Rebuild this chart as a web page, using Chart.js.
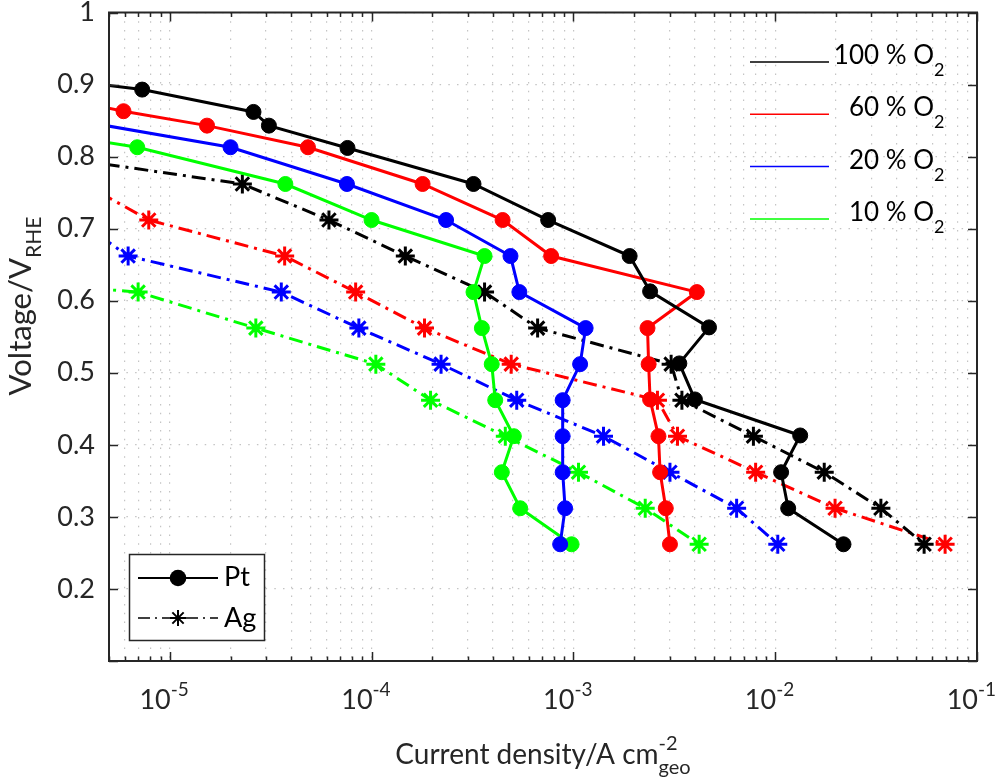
<!DOCTYPE html>
<html>
<head>
<meta charset="utf-8">
<script src="https://cdn.jsdelivr.net/npm/chart.js@4.4.0/dist/chart.umd.min.js"></script>
<style>
  html, body { margin: 0; background: #fff; }
  #wrap { width: 1000px; height: 781px; }
</style>
</head>
<body>
<div id="wrap"><canvas id="polarization-chart"></canvas></div>
<script>
// O2 fractions and metals
const o2Labels = ['100', '60', '20', '10'];
const o2Colors = ['#000000', '#ff0000', '#0000ff', '#00ff00'];
const metalLabels = ['Pt', 'Ag'];

// Pt electrodes: current density (A/cm2) and voltage (V RHE)
const ptJ100 = [3e-6, 7.3e-6, 2.6e-5, 3.1e-5, 7.6e-5, 3.2e-4, 7.5e-4, 1.9e-3, 2.4e-3, 4.7e-3, 3.35e-3, 4.0e-3, 1.33e-2, 1.07e-2, 1.16e-2, 2.18e-2];
const ptV100 = [0.906, 0.893, 0.862, 0.843, 0.812, 0.762, 0.712, 0.662, 0.613, 0.563, 0.513, 0.463, 0.413, 0.362, 0.312, 0.262];
const ptJ60 = [3e-6, 5.9e-6, 1.53e-5, 4.84e-5, 1.79e-4, 4.46e-4, 7.76e-4, 4.09e-3, 2.33e-3, 2.36e-3, 2.4e-3, 2.64e-3, 2.69e-3, 2.87e-3, 3.01e-3];
const ptV60 = [0.88, 0.863, 0.843, 0.813, 0.762, 0.712, 0.662, 0.612, 0.562, 0.512, 0.463, 0.412, 0.362, 0.312, 0.262];
const ptJ20 = [2.5e-6, 2.0e-5, 7.55e-5, 2.34e-4, 4.88e-4, 5.4e-4, 1.15e-3, 1.08e-3, 8.85e-4, 8.85e-4, 8.85e-4, 9.1e-4, 8.6e-4];
const ptV20 = [0.857, 0.813, 0.762, 0.712, 0.662, 0.612, 0.562, 0.512, 0.462, 0.412, 0.362, 0.312, 0.262];
const ptJ10 = [3e-6, 6.9e-6, 3.74e-5, 1.0e-4, 3.63e-4, 3.2e-4, 3.52e-4, 3.94e-4, 4.1e-4, 5.07e-4, 4.42e-4, 5.45e-4, 9.8e-4];
const ptV10 = [0.829, 0.813, 0.762, 0.712, 0.662, 0.612, 0.562, 0.512, 0.462, 0.412, 0.362, 0.312, 0.262];

// Ag electrodes
const agJ100 = [2.5e-6, 2.29e-5, 6.15e-5, 1.47e-4, 3.63e-4, 6.65e-4, 3.05e-3, 3.45e-3, 7.8e-3, 1.75e-2, 3.34e-2, 5.47e-2];
const agV100 = [0.801, 0.762, 0.712, 0.662, 0.612, 0.562, 0.512, 0.462, 0.412, 0.362, 0.312, 0.262];
const agJ60 = [4.5e-6, 7.87e-6, 3.71e-5, 8.34e-5, 1.83e-4, 4.92e-4, 2.61e-3, 3.28e-3, 8.0e-3, 1.98e-2, 6.95e-2];
const agV60 = [0.75, 0.712, 0.662, 0.612, 0.562, 0.512, 0.462, 0.412, 0.362, 0.312, 0.262];
const agJ20 = [4.5e-6, 6.22e-6, 3.57e-5, 8.65e-5, 2.21e-4, 5.24e-4, 1.41e-3, 3.01e-3, 6.44e-3, 1.03e-2];
const agV20 = [0.69, 0.662, 0.612, 0.562, 0.512, 0.462, 0.412, 0.362, 0.312, 0.262];
const agJ10 = [3e-6, 6.97e-6, 2.67e-5, 1.05e-4, 1.96e-4, 4.6e-4, 1.06e-3, 2.27e-3, 4.2e-3];
const agV10 = [0.62, 0.612, 0.562, 0.512, 0.462, 0.412, 0.362, 0.312, 0.262];

// axes
const xMin = 5e-6, xMax = 0.1;
const xDecades = [-5, -4, -3, -2, -1];
const yMin = 0.1, yMax = 1;
const yTickLabels = ['0.2', '0.3', '0.4', '0.5', '0.6', '0.7', '0.8', '0.9', '1'];

const FONT = 'Lato, "Open Sans", sans-serif';
const DASHDOT = [14, 6, 3, 6];

// every k*10^n inside the x range, for minor ticks and dotted grid
const xTickValues = [];
for (let e = -6; e <= -1; e++) {
  for (let k = 1; k <= 9; k++) {
    const v = k * Math.pow(10, e);
    if (v >= xMin * 0.999 && v <= xMax * 1.001) xTickValues.push(v);
  }
}

function pts(J, V) {
  return J.map((j, i) => ({x: j, y: V[i]}));
}

function ptSet(J, V, color, name) {
  return {
    label: name, data: pts(J, V),
    borderColor: color, backgroundColor: color,
    borderWidth: 3, tension: 0,
    pointStyle: 'circle', pointRadius: 7.5,
    pointBackgroundColor: color, pointBorderColor: color, pointBorderWidth: 1,
    clip: 0
  };
}

function agSet(J, V, color, name) {
  return {
    label: name, data: pts(J, V),
    borderColor: color, backgroundColor: color,
    borderWidth: 3, borderDash: DASHDOT, tension: 0,
    pointStyle: 'star', pointRadius: 9.5,
    pointBorderColor: color, pointBorderWidth: 3,
    clip: 0
  };
}

const ptJ = [ptJ100, ptJ60, ptJ20, ptJ10];
const ptV = [ptV100, ptV60, ptV20, ptV10];
const agJ = [agJ100, agJ60, agJ20, agJ10];
const agV = [agV100, agV60, agV20, agV10];

const datasets = [];
o2Labels.forEach((lab, i) => datasets.push(ptSet(ptJ[i], ptV[i], o2Colors[i], 'Pt ' + lab)));
o2Labels.forEach((lab, i) => datasets.push(agSet(agJ[i], agV[i], o2Colors[i], 'Ag ' + lab)));

function isDecade(v) {
  const l = Math.log10(v);
  return Math.abs(l - Math.round(l)) < 1e-9;
}

// text with a raised or lowered small part
function textWithScript(ctx, main, script, x, y, size, shift, align) {
  ctx.font = size + 'px ' + FONT;
  const w1 = ctx.measureText(main).width;
  ctx.font = Math.round(size * 0.68) + 'px ' + FONT;
  const w2 = ctx.measureText(script).width;
  let left = x;
  if (align === 'center') left = x - (w1 + w2) / 2;
  if (align === 'right') left = x - w1;
  ctx.textAlign = 'left';
  ctx.font = size + 'px ' + FONT;
  ctx.fillText(main, left, y);
  ctx.font = Math.round(size * 0.68) + 'px ' + FONT;
  ctx.fillText(script, left + w1, y + shift);
}

const framePlugin = {
  id: 'framePlugin',
  afterDraw(chart) {
    const {ctx, chartArea: a} = chart;
    const x = chart.scales.x, y = chart.scales.y;
    ctx.save();
    ctx.strokeStyle = '#262626';
    ctx.fillStyle = '#262626';
    ctx.setLineDash([]);

    // ticks
    ctx.lineWidth = 1.5;
    ctx.beginPath();
    xTickValues.forEach(v => {
      const px = Math.round(x.getPixelForValue(v)) + 0.5;
      const len = isDecade(v) ? 9 : 4.5;
      ctx.moveTo(px, a.bottom); ctx.lineTo(px, a.bottom - len);
      ctx.moveTo(px, a.top); ctx.lineTo(px, a.top + len);
    });
    y.ticks.forEach(t => {
      const py = Math.round(y.getPixelForValue(t.value)) + 0.5;
      ctx.moveTo(a.left, py); ctx.lineTo(a.left + 9, py);
      ctx.moveTo(a.right, py); ctx.lineTo(a.right - 9, py);
    });
    ctx.stroke();

    // box
    ctx.lineWidth = 2;
    ctx.strokeRect(a.left, a.top, a.right - a.left, a.bottom - a.top);

    // y tick labels
    ctx.font = '27px ' + FONT;
    ctx.textAlign = 'right';
    ctx.textBaseline = 'middle';
    yTickLabels.forEach(l => {
      ctx.fillText(l, a.left - 14, y.getPixelForValue(parseFloat(l)));
    });

    // x tick labels 10^n
    ctx.textBaseline = 'alphabetic';
    xDecades.forEach(e => {
      const px = x.getPixelForValue(Math.pow(10, e));
      ctx.font = '27px ' + FONT;
      ctx.textAlign = 'right';
      ctx.fillText('10', px + 1, a.bottom + 48);
      ctx.font = '19px ' + FONT;
      ctx.textAlign = 'left';
      ctx.fillText('-' + Math.abs(e), px + 1, a.bottom + 35);
    });

    // x title: Current density/A cm^-2 geo
    ctx.font = '28px ' + FONT;
    const t1 = 'Current density/A cm';
    const w1 = ctx.measureText(t1).width;
    ctx.font = '20px ' + FONT;
    const w2 = ctx.measureText('geo').width;
    const cx = (a.left + a.right) / 2;
    const left = cx - (w1 + w2) / 2;
    const base = a.bottom + 103;
    ctx.textAlign = 'left';
    ctx.font = '28px ' + FONT;
    ctx.fillText(t1, left, base);
    ctx.font = '20px ' + FONT;
    ctx.fillText('-2', left + w1, base - 14);
    ctx.fillText('geo', left + w1, base + 10);

    // y title: Voltage/V RHE
    ctx.save();
    ctx.translate(31, 306);
    ctx.rotate(-Math.PI / 2);
    textWithScript(ctx, 'Voltage/V', 'RHE', 0, 0, 31, 10, 'center');
    ctx.restore();

    // O2 legend (lines only)
    o2Labels.forEach((lab, i) => {
      const ly = 62 + i * 52.3;
      ctx.strokeStyle = o2Colors[i];
      ctx.lineWidth = 1.5;
      ctx.beginPath();
      ctx.moveTo(750, ly); ctx.lineTo(829, ly);
      ctx.stroke();
      ctx.fillStyle = '#000';
      ctx.textBaseline = 'alphabetic';
      textWithScript(ctx, lab + ' % O', '2', 934, ly + 2, 26, 12, 'right');
    });

    // metal legend box
    ctx.fillStyle = '#fff';
    ctx.fillRect(129, 554, 135, 86);
    ctx.strokeStyle = '#262626';
    ctx.lineWidth = 1.5;
    ctx.strokeRect(129.5, 554.5, 135, 86);
    ctx.strokeStyle = '#000';
    ctx.fillStyle = '#000';
    // Pt row
    ctx.lineWidth = 2;
    ctx.beginPath(); ctx.moveTo(138, 578); ctx.lineTo(218, 578); ctx.stroke();
    ctx.beginPath(); ctx.arc(178, 578, 8.3, 0, Math.PI * 2); ctx.fill();
    // Ag row
    ctx.lineWidth = 1.5;
    ctx.setLineDash([12, 5, 2, 5]);
    ctx.beginPath(); ctx.moveTo(138, 618); ctx.lineTo(218, 618); ctx.stroke();
    ctx.setLineDash([]);
    ctx.lineWidth = 2;
    ctx.beginPath();
    for (let k = 0; k < 4; k++) {
      const ang = k * Math.PI / 4;
      const dx = Math.cos(ang) * 8, dy = Math.sin(ang) * 8;
      ctx.moveTo(178 - dx, 618 - dy); ctx.lineTo(178 + dx, 618 + dy);
    }
    ctx.stroke();
    ctx.font = '27px ' + FONT;
    ctx.textAlign = 'left';
    ctx.textBaseline = 'alphabetic';
    ctx.fillText(metalLabels[0], 224, 586);
    ctx.fillText(metalLabels[1], 224, 627);
    ctx.restore();
  }
};

const context = document.getElementById('polarization-chart');

new Chart(context, {
  type: 'line',
  data: { datasets: datasets },
  options: {
    responsive: true,
    maintainAspectRatio: false,
    animation: false,
    layout: { padding: { left: 109, right: 23, top: 12, bottom: 120 } },
    plugins: {
      legend: { display: false },
      tooltip: { enabled: false }
    },
    scales: {
      x: {
        type: 'logarithmic',
        min: xMin,
        max: xMax,
        afterBuildTicks: scale => {
          scale.ticks = xTickValues.map(v => ({ value: v }));
        },
        ticks: { display: false },
        grid: { color: '#c4c4c4', lineWidth: 1.2, drawTicks: false },
        border: { display: false, dash: [1.5, 7.2] }
      },
      y: {
        type: 'linear',
        min: yMin,
        max: yMax,
        ticks: { display: false, stepSize: 0.1 },
        grid: { color: '#c4c4c4', lineWidth: 1.2, drawTicks: false },
        border: { display: false, dash: [1.5, 7.2] }
      }
    }
  },
  plugins: [framePlugin]
});
</script>
</body>
</html>
